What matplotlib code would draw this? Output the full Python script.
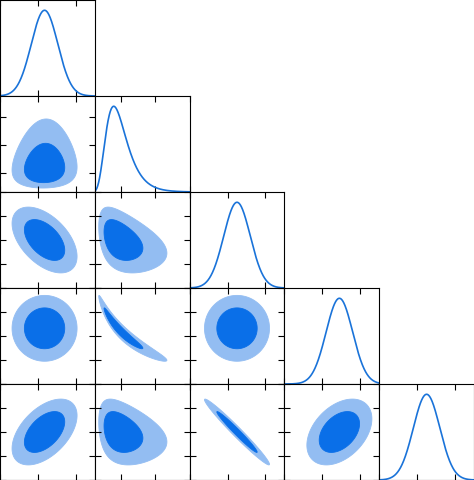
import numpy as np
import matplotlib
matplotlib.use("Agg")
import matplotlib.pyplot as plt
from matplotlib.ticker import MaxNLocator

# parameter summary (latent Gaussian; param 1 is log-normal)
means = [0.47, -0.08, 0.50, 0.58, 0.50]
sigmas = [0.14, 0.38, 0.14, 0.14, 0.14]
lognormal = [False, True, False, False, False]
limits = [(0, 1), (0.25, 3.0), (0, 1), (0, 1), (0, 1)]
corr = {(1, 0): 0.05, (2, 0): -0.5, (2, 1): -0.4, (3, 0): 0.0, (3, 1): -0.97,
        (3, 2): 0.0, (4, 0): 0.5, (4, 1): -0.3, (4, 2): -0.98, (4, 3): 0.4}
levels = [2.45, 1.52]  # 95%, 68% radii
fill_colors = ['#93bdf2', '#0a6fe8']
line_color = '#1a73d9'

n = len(means)
fig, axes = plt.subplots(n, n, figsize=(4.74, 4.80), dpi=100)
fig.subplots_adjust(left=0, right=1, bottom=0, top=1, wspace=0, hspace=0)

def tr(i, z):
    v = means[i] + sigmas[i] * z
    return np.exp(v) if lognormal[i] else v

t = np.linspace(0, 2 * np.pi, 300)
for i in range(n):
    for j in range(n):
        ax = axes[i, j]
        if j > i:
            ax.axis('off')
            continue
        ax.tick_params(direction='in', top=True, right=True, length=4,
                       labelbottom=False, labelleft=False, width=0.8)
        if i == j:
            x = np.linspace(*limits[i], 400)
            if lognormal[i]:
                lx = np.log(x)
                y = np.exp(-0.5 * ((lx - means[i]) / sigmas[i]) ** 2) / x
            else:
                y = np.exp(-0.5 * ((x - means[i]) / sigmas[i]) ** 2)
            y = y / y.max()
            ax.plot(x, y, color=line_color, lw=1.2)
            ax.set_xlim(*limits[i]); ax.set_ylim(0, 1.12)
            ax.set_yticks([])
        else:
            r = corr[(i, j)]
            for lev, c in zip(levels, fill_colors):
                u = lev * np.cos(t); w = lev * np.sin(t)
                zx = u
                zy = r * u + np.sqrt(1 - r * r) * w
                ax.fill(tr(j, zx), tr(i, zy), color=c, lw=0.6, ec=c)
            ax.set_xlim(*limits[j]); ax.set_ylim(*limits[i])
            ax.yaxis.set_major_locator(MaxNLocator(4))
        ax.xaxis.set_major_locator(MaxNLocator(3))

fig.savefig("out.png", dpi=100)
